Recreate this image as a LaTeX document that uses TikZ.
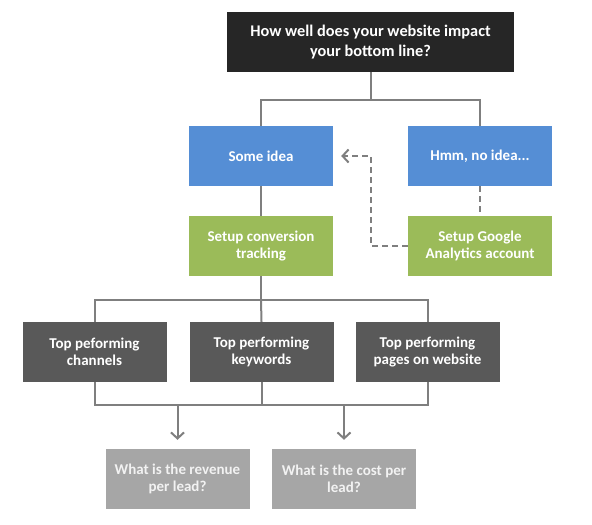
\documentclass[tikz,border=0pt]{standalone}
\usepackage{fontspec}
\setmainfont{Carlito}
\usepackage{tikz}
\usetikzlibrary{positioning,arrows.meta}

\definecolor{topblack}{HTML}{262626}
\definecolor{ideablue}{HTML}{558ED5}
\definecolor{setupgreen}{HTML}{9BBB59}
\definecolor{metricgray}{HTML}{595959}
\definecolor{askgray}{HTML}{A6A6A6}
\definecolor{linkgray}{HTML}{7F7F7F}

\begin{document}
\begin{tikzpicture}[x=1pt,y=1pt,
    box/.style={minimum width=144pt,minimum height=60pt,inner sep=0pt,align=center,
      text=white,font=\fontsize{15}{17.5}\selectfont\bfseries},
    link/.style={draw=linkgray,line width=2pt},
    dlink/.style={link,dash pattern=on 6pt off 4pt},
    tip/.style={-{Straight Barb[length=6pt,width=13pt,line width=2pt]}}]
    \useasboundingbox (0,0) rectangle (592,-525);
    % Question on top
    \node[box,fill=topblack,minimum width=287pt,font=\fontsize{16.3}{20}\selectfont\bfseries]
        (question) at (370.5,-42) {How well does your website impact\\your bottom line?};
    % Two answers
    \node[box,fill=ideablue] (some) at (261,-156) {Some idea};
    \node[box,fill=ideablue] (noidea) at (480,-156) {Hmm, no idea...};
    % Setup steps
    \node[box,fill=setupgreen] (conversion) at (261,-246) {Setup conversion\\tracking};
    \node[box,fill=setupgreen] (analytics) at (480,-246) {Setup Google\\Analytics account};
    % Reports
    \node[box,fill=metricgray] (channels) at (94.5,-352) {Top peforming\\channels};
    \node[box,fill=metricgray] (keywords) at (261.5,-352) {Top performing\\keywords};
    \node[box,fill=metricgray] (pages) at (427.5,-352) {Top performing\\pages on website};
    % Questions to answer
    \node[box,fill=askgray,text=white!95!black] (revenue) at (177.5,-479) {What is the revenue\\per lead?};
    \node[box,fill=askgray,text=white!95!black] (cost) at (344,-479) {What is the cost per\\lead?};
    % Connectors
    \draw[link] (question.south) -- ++(0,-28) coordinate (fork);
    \draw[link] (some.north) |- (fork) -| (noidea.north);
    \draw[link] (some) -- (conversion);
    \draw[dlink] (noidea) -- (analytics);
    \draw[dlink,tip] (analytics.west) -- ++(-37,0) |- ([xshift=8pt]some.east);
    \draw[link] (conversion.south) -- ++(0,-24) coordinate (spread);
    \draw[link] (channels.north) |- (spread) -| (pages.north);
    \draw[link] (spread) -- (keywords.north);
    \draw[link] (keywords.south) -- ++(0,-23) coordinate (merge);
    \draw[link] (channels.south) |- (merge) -| (pages.south);
    \draw[link,tip] (revenue.north |- merge) -- ([yshift=9pt]revenue.north);
    \draw[link,tip] (cost.north |- merge) -- ([yshift=9pt]cost.north);
\end{tikzpicture}
\end{document}
